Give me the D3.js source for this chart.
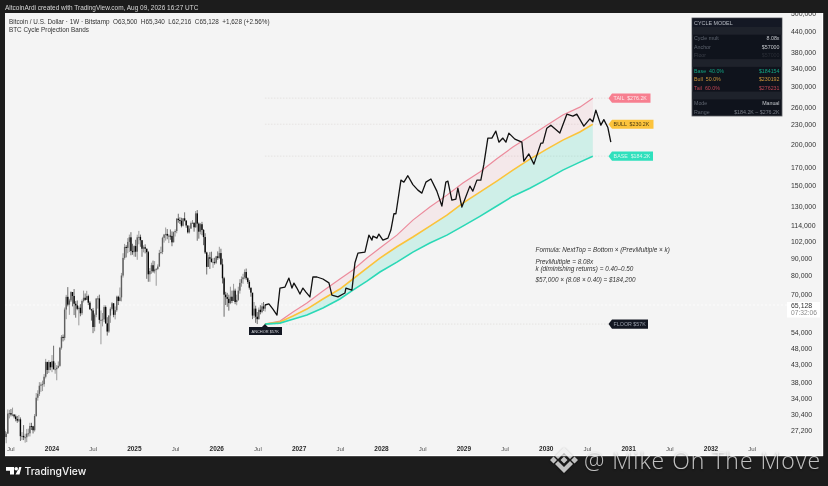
<!DOCTYPE html>
<html>
<head>
<meta charset="utf-8">
<script src="https://cdn.jsdelivr.net/npm/d3@7/dist/d3.min.js"></script>
<style>
html,body{margin:0;padding:0;background:#1c1c1c;overflow:hidden}
svg{display:block;filter:blur(.3px)}
text{font-family:"Liberation Sans",Inter,sans-serif;white-space:pre}
</style>
</head>
<body>
<svg id="c" width="828" height="486"></svg>
<script>
// weekly candles, first week starts 2023-06-05
const closes = [25900,26500,30500,30600, 30300,30300,29900,29350,29050, 29300,26050,26100,25850, 25850,26530,26570,27970, 27920,27160,29990,34080,35030, 37060,37370,37470,39460, 43780,41370,43720,42150,
43970,41580,41580,42030,42580, 48300,52130,51730,63100, 68950,65300,67230,71300, 69360,65700,64950,63400,63900, 61480,67000,68500,67500, 69300,66200,63200,62700, 55850,60800,68100,68200,58700, 58700,58900,64200,57300, 54100,60500,63400,65900, 60800,62800,69000,67000,68700, 80000,90500,97700,97000, 101200,104500,95000,94200,98300,
94500,104500,104800,102400, 96500,97500,96500,94200, 80700,82600,86000,82400,83500, 83800,85200,93700,94300, 104100,106500,107000,105700, 105700,105500,100900,108300,109200, 119000,117900,117300,113300, 119300,117500,113500,108200, 111100,115400,115700,112100,123500, 115000,108700,114500,110000, 104700,94000,85000,90900, 90000,88000,88000,87500,91500,
90500,93600,86500,78500, 70000,68800,68000,66000, 69000,67000,72000,66500,67500, 72000,76000,78000,79000, 82000,78500,76500,73500, 71000,60500,63500,60000,59000, 63000,62000,64500,63500, 65128];
const highs = [27400,26800,31400,31300, 31500,31800,30350,30300,30000, 30200,29700,26800,28150, 26500,27400,27450,28600, 28600,28000,30400,35200,35900, 38000,37950,38400,40200, 44700,43400,44300,43800,
45900,49000,43500,42800,43900, 48600,52800,52980,64000, 69900,73800,68000,71700, 71300,72800,66900,67200,64800, 65500,67700,72000,70600, 71900,70000,66900,63400, 63800,61400,68400,69400,70000, 62700,61600,65000,64900, 59800,60700,64100,66500, 66000,64500,69500,69500,73600, 81500,93500,99800,98900, 103900,106500,108300,99900,98900,
102700,106400,109300,106500, 102500,98800,99500,96500, 95000,84300,87500,88800,88500, 84300,86500,95700,97900, 104900,107000,111900,110700, 106800,110400,108900,108800,110500, 119500,123200,120200,119800, 119500,124400,117600,113500, 113400,116700,117900,115700,125500, 126400,115900,115500,116400, 110700,107500,94500,92500, 94200,94500,90500,90600,91800,
94700,97800,96500,90000, 79300,71400,70900,70000, 74000,72000,75500,73000,70000, 74000,78000,79500,81000, 83500,84000,79000,77500, 73500,68000,66500,64800,62000, 64000,65000,66000,66500, 65340];
const lows = [25350,24800,26600,29500, 29900,29950,29500,28900,28600, 28750,25200,25350,25350, 24900,25000,26000,26000, 27200,26550,26900,29850,33400, 34500,35500,35700,36800, 39000,40200,40500,41300,
40750,41500,40300,38500,41850, 42300,47700,50500,50900, 59000,64500,60800,66500, 64500,60700,59600,62800,56500, 60200,60700,66300,67100, 67500,65100,63000,58400, 53500,54200,59800,63500,57200, 49500,56100,57800,57100, 52600,53600,57500,62700, 59800,58900,62100,65100,66800, 66800,78900,89400,90800, 93500,94300,92200,92500,91300,
91200,89300,99500,97800, 91200,94100,93400,78200, 76600,76600,81000,81600,81200, 74500,83100,85100,92900, 92900,100700,102100,103100, 100400,102700,98200,100900,105100, 107500,115700,114700,112000, 112700,116800,111700,107300, 107300,110800,114800,108700,111700, 102000,103500,106700,106000, 98900,93000,80600,84900, 83800,87600,84400,86400,86700,
89300,89900,86000,75700, 60000,65100,64300,62600, 65500,66000,67000,65500,65000, 67000,70500,74000,75500, 78000,77500,75500,72500, 69000,59000,59500,57500,57000, 58800,61000,61500,62500, 62216];
const firstOpen = 27000;

// black projected path after the last candle
const pathYears = [2026.585,2026.633,2026.682,2026.731,2026.767,2026.828,2026.876,2026.913,2026.937,2026.973,2027.010,2027.046,2027.083,2027.131,2027.167,2027.216,2027.289,2027.362,2027.398,2027.471,2027.556,2027.568,2027.641,2027.677,2027.714,2027.799,2027.847,2027.884,2027.896,2027.944,2027.968,2028.017,2028.078,2028.114,2028.151,2028.175,2028.236,2028.272,2028.320,2028.381,2028.442,2028.490,2028.539,2028.600,2028.672,2028.733,2028.781,2028.806,2028.854,2028.903,2028.927,2028.976,2029.073,2029.109,2029.158,2029.206,2029.243,2029.291,2029.340,2029.388,2029.425,2029.473,2029.510,2029.546,2029.619,2029.704,2029.728,2029.789,2029.850,2029.935,2029.959,2030.007,2030.056,2030.165,2030.250,2030.323,2030.371,2030.456,2030.529,2030.565,2030.602,2030.663,2030.699,2030.748,2030.784];
const pathPrices = [65128,65600,63300,60700,73300,73800,78600,73300,75900,73300,70300,73300,71300,68900,79200,79200,78100,76000,69800,68900,70800,73300,72300,87300,93600,94200,106100,102500,105400,103900,106900,102500,103900,109900,123200,123200,155800,153600,160700,151000,145300,142300,153600,157000,144300,130000,153600,154700,135500,136500,147300,129100,149400,144300,155800,155800,174200,209000,209000,219400,203100,209000,203100,216400,207500,203100,177900,187000,174200,201700,201700,224000,228700,216400,247000,243600,247000,227200,239100,234200,254000,228700,237700,224900,203100];

// cycle bands
const bandYears = [2026.585,2026.767,2026.925,2027.095,2027.289,2027.495,2027.653,2027.823,2027.981,2028.187,2028.381,2028.587,2028.794,2028.988,2029.194,2029.400,2029.595,2029.801,2030.007,2030.201,2030.408,2030.565];
const tailBand = [57000,58200,62000,66000,71800,78100,83130,90400,97000,106100,117850,129100,140300,152600,164800,181000,196300,211700,228700,245500,259400,276200];
const bullBand = [57000,57800,60300,63300,67900,72800,78100,84300,90400,97800,104700,113000,122000,132700,143300,154800,167100,180400,193500,206000,218000,230200];
const baseBand = [57000,57400,59000,60700,63800,67900,72290,76950,82000,87900,94200,100400,106100,113000,121000,130000,139300,147300,156900,167100,176700,184200];

const levelPrices = [276200,230200,184200,57000];
const yTicks = [500000,440000,380000,340000,300000,260000,230000,200000,170000,150000,130000,114000,102000,90000,80000,70000,54000,48000,43000,38000,34000,30400,27200];
const xTickYears = [2023.5,2024,2024.5,2025,2025.5,2026,2026.5,2027,2027.5,2028,2028.5,2029,2029.5,2030,2030.5,2031,2031.5,2032,2032.5];
const xTickLabels = ["Jul","2024","Jul","2025","Jul","2026","Jul","2027","Jul","2028","Jul","2029","Jul","2030","Jul","2031","Jul","2032","Jul"];

const panelRows = [
 ["CYCLE MODEL","","h"],["","","s"],["Cycle mult","8.08x","n"],["Anchor","$57000","n"],["Floor","$57000","f"],["","","s"],
 ["Base  40.0%","$184154","base"],["Bull  50.0%","$230192","bull"],["Tail  60.0%","$276231","tail"],["","","s"],["Mode","Manual","n"],["Range","$184.2K – $276.2K","r"]];
const formulaLines = ["Formula: NextTop = Bottom × (PrevMultiple × k)","PrevMultiple = 8.08x","k (diminishing returns) = 0.40–0.50","$57,000 × (8.08 × 0.40) = $184,200"];

if(closes.length!==166||highs.length!==166||lows.length!==166) throw new Error("len "+closes.length+" "+highs.length+" "+lows.length);
if(pathYears.length!==pathPrices.length) throw new Error("path "+pathYears.length+" "+pathPrices.length);

const svg = d3.select("#c");
const x = d3.scaleLinear().domain([2024,2032]).range([52,711]);
const y = d3.scaleLog().domain([27200,440000]).range([430,31.5]);
const candleYear = i => 2024 + (i-30)*7/365.25;

svg.append("defs").append("clipPath").attr("id","plot").append("rect").attr("x",5).attr("y",13).attr("width",818).attr("height",443);

svg.append("rect").attr("width",828).attr("height",486).attr("fill","#1c1c1c");
svg.append("rect").attr("x",5).attr("y",13).attr("width",818).attr("height",443).attr("fill","#f4f4f4");
svg.append("rect").attr("x",5).attr("y",455).attr("width",818).attr("height",1.2).attr("fill","#fff");
svg.append("rect").attr("x",822).attr("y",13).attr("width",1.2).attr("height",443).attr("fill","#fff");

const g = svg.append("g").attr("clip-path","url(#plot)");

// last price dashed line
g.append("line").attr("x1",5).attr("x2",787).attr("y1",y(65128)).attr("y2",y(65128))
 .attr("stroke","#fff").attr("stroke-width",.8).attr("stroke-dasharray","2 2");

// level dotted lines
g.selectAll("line.lvl").data(levelPrices).join("line").attr("class","lvl")
 .attr("x1",x(2026.585)).attr("x2",x(2030.78)).attr("y1",d=>y(d)).attr("y2",d=>y(d))
 .attr("stroke","#e0dcda").attr("stroke-width",.7).attr("stroke-dasharray","1.5 1.5");

// bands
const bandRows = bandYears.map((t,i)=>({t,tail:tailBand[i],bull:bullBand[i],base:baseBand[i]}));
const area = (a,b)=>d3.area().x(d=>x(d.t)).y0(d=>y(d[a])).y1(d=>y(d[b]));
g.append("path").datum(bandRows).attr("d",area("bull","tail")).attr("fill","#f26d85").attr("opacity",.09);
g.append("path").datum(bandRows).attr("d",area("base","bull")).attr("fill","#26d7b0").attr("opacity",.18);
const bandLine = k=>d3.line().x(d=>x(d.t)).y(d=>y(d[k]));
[["tail","#ec8b9c",1.2],["bull","#fbc33a",1.6],["base","#2ad8b6",1.6]].forEach(([k,c,w])=>{
  g.append("path").datum(bandRows).attr("d",bandLine(k)).attr("fill","none").attr("stroke",c).attr("stroke-width",w);
});

// candles
const candles = closes.map((c,i)=>({t:candleYear(i),o:i?closes[i-1]:firstOpen,c,h:highs[i],l:lows[i]}));
const cg = g.append("g");
cg.selectAll("line").data(candles).join("line")
 .attr("x1",d=>x(d.t)).attr("x2",d=>x(d.t)).attr("y1",d=>y(d.h)).attr("y2",d=>y(d.l))
 .attr("stroke",d=>d.c>=d.o?"#8a8a8a":"#555").attr("stroke-width",.85);
cg.selectAll("rect").data(candles).join("rect")
 .attr("x",d=>x(d.t)-.7).attr("width",1.4)
 .attr("y",d=>y(Math.max(d.o,d.c))).attr("height",d=>Math.max(.9,Math.abs(y(d.o)-y(d.c))))
 .attr("fill",d=>d.c>=d.o?"#5f5f5f":"#050505");

// projected path
g.append("path").datum(pathYears.map((t,i)=>[t,pathPrices[i]]))
 .attr("d",d3.line().x(d=>x(d[0])).y(d=>y(d[1])))
 .attr("fill","none").attr("stroke","#111").attr("stroke-width",1.3).attr("stroke-linejoin","round");

// y axis labels
const yAxis = d3.axisRight(y).tickValues(yTicks).tickFormat(d3.format(",")).tickSize(0).tickPadding(0);
const yg = svg.append("g").attr("transform","translate(791,0)").call(yAxis);
yg.select(".domain").remove();
yg.selectAll("text").attr("fill","#333").style("font-size","6.95px").style("font-family",'"Liberation Sans",sans-serif');

// x axis labels
const xg = svg.append("g").attr("transform","translate(0,449)");
xg.selectAll("text").data(xTickYears).join("text")
 .attr("x",d=>x(d)).attr("y",2.3).attr("text-anchor","middle")
 .attr("font-size",(d,i)=>xTickLabels[i]==="Jul"?6.1:6.5)
 .attr("font-weight",(d,i)=>xTickLabels[i]==="Jul"?400:700)
 .attr("fill",(d,i)=>xTickLabels[i]==="Jul"?"#555":"#2a2a2a")
 .text((d,i)=>xTickLabels[i]);

// last price box
svg.append("rect").attr("x",787).attr("y",302).attr("width",33).attr("height",15.5).attr("fill","#fff");
svg.append("text").attr("x",791).attr("y",307.5).attr("font-size",6.95).attr("fill","#333").text("65,128");
svg.append("text").attr("x",791).attr("y",314.8).attr("font-size",6.7).attr("fill","#8a8a8a").text("07:32:06");

// price tags
function tag(price,label,fill,color,x0,x1){
  const cy=y(price), h=4.6;
  svg.append("path").attr("d",`M${x0-3.5} ${cy}L${x0} ${cy-h}H${x1}V${cy+h}H${x0}Z`).attr("fill",fill);
  svg.append("text").attr("x",x0+1.6).attr("y",cy+1.8).attr("font-size",5.3).attr("fill",color).text(label);
}
tag(276200,"TAIL  $276.2K","#f77f90","#fde8ea",612,650.5);
tag(230200,"BULL  $230.2K","#fcc33c","#4a3a10",612,653.5);
tag(184200,"BASE  $184.2K","#2fe0bd","#d5f7ee",612,653);
tag(57000,"FLOOR $57K","#131722","#9aa0ac",612,648);

// anchor tag
{
  const cy=y(57000), ax=x(2026.585);
  svg.append("path").attr("d",`M${ax} ${cy}l3 3H282v8H249v-8H${ax-3}Z`).attr("fill","#131722");
  svg.append("text").attr("x",251.5).attr("y",cy+8.8).attr("font-size",3.95).attr("fill","#d6d8dc").text("ANCHOR $57K");
}

// panel
{
  const px=692,pw=90,py=18,ph=98;
  const p=svg.append("g");
  p.append("rect").attr("x",px).attr("y",py).attr("width",pw).attr("height",ph).attr("fill","#0f131c").attr("stroke","#5a5d63").attr("stroke-width",.8);
  const rowY=[23.2,30.8,38.3,46.8,55.3,63,71,79.5,88,95.5,103.5,112];
  const colors={h:"#b8bcc4",n:"#5f6570",r:"#5f6570",f:"#3a3f48",base:"#12a584",bull:"#cf973a",tail:"#bd4654"};
  const vals={n:"#c4c7cc",r:"#7a7f88",f:"#2a2e36",base:"#12a584",bull:"#cf973a",tail:"#bd4654"};
  panelRows.forEach((r,i)=>{
    const c=rowY[i];
    if(r[2]==="s") p.append("rect").attr("x",px+.5).attr("y",c-3.9).attr("width",pw-1).attr("height",7.8).attr("fill","#1e222b");
    if(r[2]==="h") p.append("rect").attr("x",px+.5).attr("y",c-4.6).attr("width",pw-1).attr("height",9).attr("fill","#141824");
    if(r[0]) p.append("text").attr("x",px+2).attr("y",c+1.8).attr("font-size",r[2]==="h"?5.4:5.3).attr("fill",colors[r[2]]).text(r[0]);
    if(r[1]) p.append("text").attr("x",px+pw-2.5).attr("y",c+1.8).attr("text-anchor","end").attr("font-size",5.3).attr("fill",vals[r[2]]).text(r[1]);
  });
}

// formula
const formulaY=[250,262,268.5,280];
svg.append("g").selectAll("text").data(formulaLines).join("text")
 .attr("x",535.5).attr("y",(d,i)=>formulaY[i]+2).attr("font-size",6.35).attr("font-style","italic").attr("fill","#333").text(d=>d);

// header texts
svg.append("text").attr("x",5).attr("y",10).attr("font-size",6.47).attr("fill","#d8d8d8").text("AltcoinArdi created with TradingView.com, Aug 09, 2026 16:27 UTC");
svg.append("text").attr("x",9).attr("y",23.8).attr("font-size",6.35).attr("fill","#333").text("Bitcoin / U.S. Dollar · 1W · Bitstamp  O63,500  H65,340  L62,216  C65,128  +1,628 (+2.56%)");
svg.append("text").attr("x",9).attr("y",32.3).attr("font-size",6.35).attr("fill","#333").text("BTC Cycle Projection Bands");

// top strip covers the clipped top tick
svg.append("rect").attr("x",780).attr("y",0).attr("width",48).attr("height",13).attr("fill","#1c1c1c");

// logo
svg.append("path").attr("d","M6 467H14V474.5H10V470.8H6Z").attr("fill","#fff");
svg.append("circle").attr("cx",16.2).attr("cy",468.8).attr("r",1.8).attr("fill","#fff");
svg.append("path").attr("d","M17 474.5L19.2 467H21.5L19.5 474.5Z M15.5 474.5L17.8 470H19L17.5 474.5Z").attr("fill","#fff");
svg.append("text").attr("x",24.5).attr("y",475).attr("font-size",10.3).attr("font-weight",500).attr("fill","#f4f4f4").style("font-family","Inter,sans-serif").text("TradingView");

// watermark
const wm=svg.append("g").attr("opacity",.78).style("filter","drop-shadow(0 1px 1px rgba(0,0,0,.45))");
wm.append("path").attr("fill","#f0f0f0").attr("d","M564 447L573 456L570 459L564 453L558 459L555 456Z M564 473L573 464L570 461L564 467L558 461L555 464Z M564 456.5L567.5 460L564 463.5L560.5 460Z M553.5 456.5L557 460L553.5 463.5L550 460Z M574.5 456.5L578 460L574.5 463.5L571 460Z");
wm.append("text").attr("x",584).attr("y",468.5).attr("font-size",23).attr("letter-spacing",1).attr("font-weight",300).attr("fill","#f0f0f0").style("font-family","'Open Sans',sans-serif").text("@ Mike On The Move");
</script>
</body>
</html>
